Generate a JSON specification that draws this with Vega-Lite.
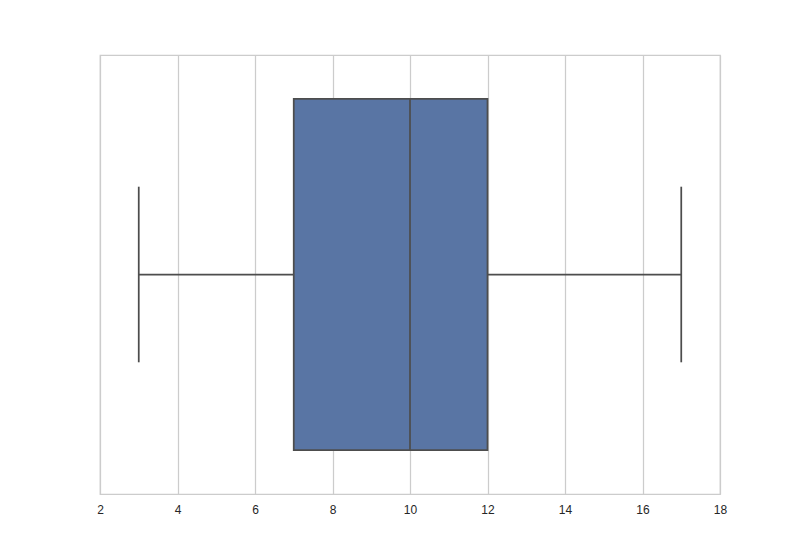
{
  "$schema": "https://vega.github.io/schema/vega-lite/v6.json",
  "autosize": {"type": "none"},
  "width": 620,
  "height": 439,
  "padding": {"left": 100, "top": 55, "right": 80, "bottom": 56},
  "background": "white",
  "config": {
    "view": {"stroke": "#cccccc", "strokeWidth": 1.25},
    "axis": {"gridColor": "#cccccc", "gridWidth": 1.25, "labelFont": "Liberation Sans", "labelFontSize": 12, "labelColor": "#262626", "ticks": false, "domain": false, "labelPadding": 10, "title": null}
  },
  "data": {"values": [{"min": 3, "q1": 7, "median": 10, "q3": 12, "max": 17}]},
  "encoding": {},
  "layer": [
    {
      "mark": {"type": "rule", "color": "#4d4d4d", "strokeWidth": 1.75},
      "encoding": {
        "x": {"field": "min", "type": "quantitative", "scale": {"domain": [2, 18], "nice": false, "zero": false}, "axis": {"values": [2, 4, 6, 8, 10, 12, 14, 16, 18], "grid": true, "labelFlush": false}},
        "x2": {"field": "q1"},
        "y": {"datum": 0, "type": "quantitative", "scale": {"domain": [-0.5, 0.5]}, "axis": null}
      }
    },
    {
      "mark": {"type": "rule", "color": "#4d4d4d", "strokeWidth": 1.75},
      "encoding": {
        "x": {"field": "q3", "type": "quantitative"},
        "x2": {"field": "max"},
        "y": {"datum": 0, "type": "quantitative"}
      }
    },
    {
      "mark": {"type": "rule", "color": "#4d4d4d", "strokeWidth": 1.75},
      "encoding": {
        "x": {"field": "min", "type": "quantitative"},
        "y": {"datum": -0.2, "type": "quantitative"},
        "y2": {"datum": 0.2}
      }
    },
    {
      "mark": {"type": "rule", "color": "#4d4d4d", "strokeWidth": 1.75},
      "encoding": {
        "x": {"field": "max", "type": "quantitative"},
        "y": {"datum": -0.2, "type": "quantitative"},
        "y2": {"datum": 0.2}
      }
    },
    {
      "mark": {"type": "rect", "fill": "#5975a4", "stroke": "#4d4d4d", "strokeWidth": 1.75},
      "encoding": {
        "x": {"field": "q1", "type": "quantitative"},
        "x2": {"field": "q3"},
        "y": {"datum": -0.4, "type": "quantitative"},
        "y2": {"datum": 0.4}
      }
    },
    {
      "mark": {"type": "rule", "color": "#4d4d4d", "strokeWidth": 1.75},
      "encoding": {
        "x": {"field": "median", "type": "quantitative"},
        "y": {"datum": -0.4, "type": "quantitative"},
        "y2": {"datum": 0.4}
      }
    }
  ]
}
